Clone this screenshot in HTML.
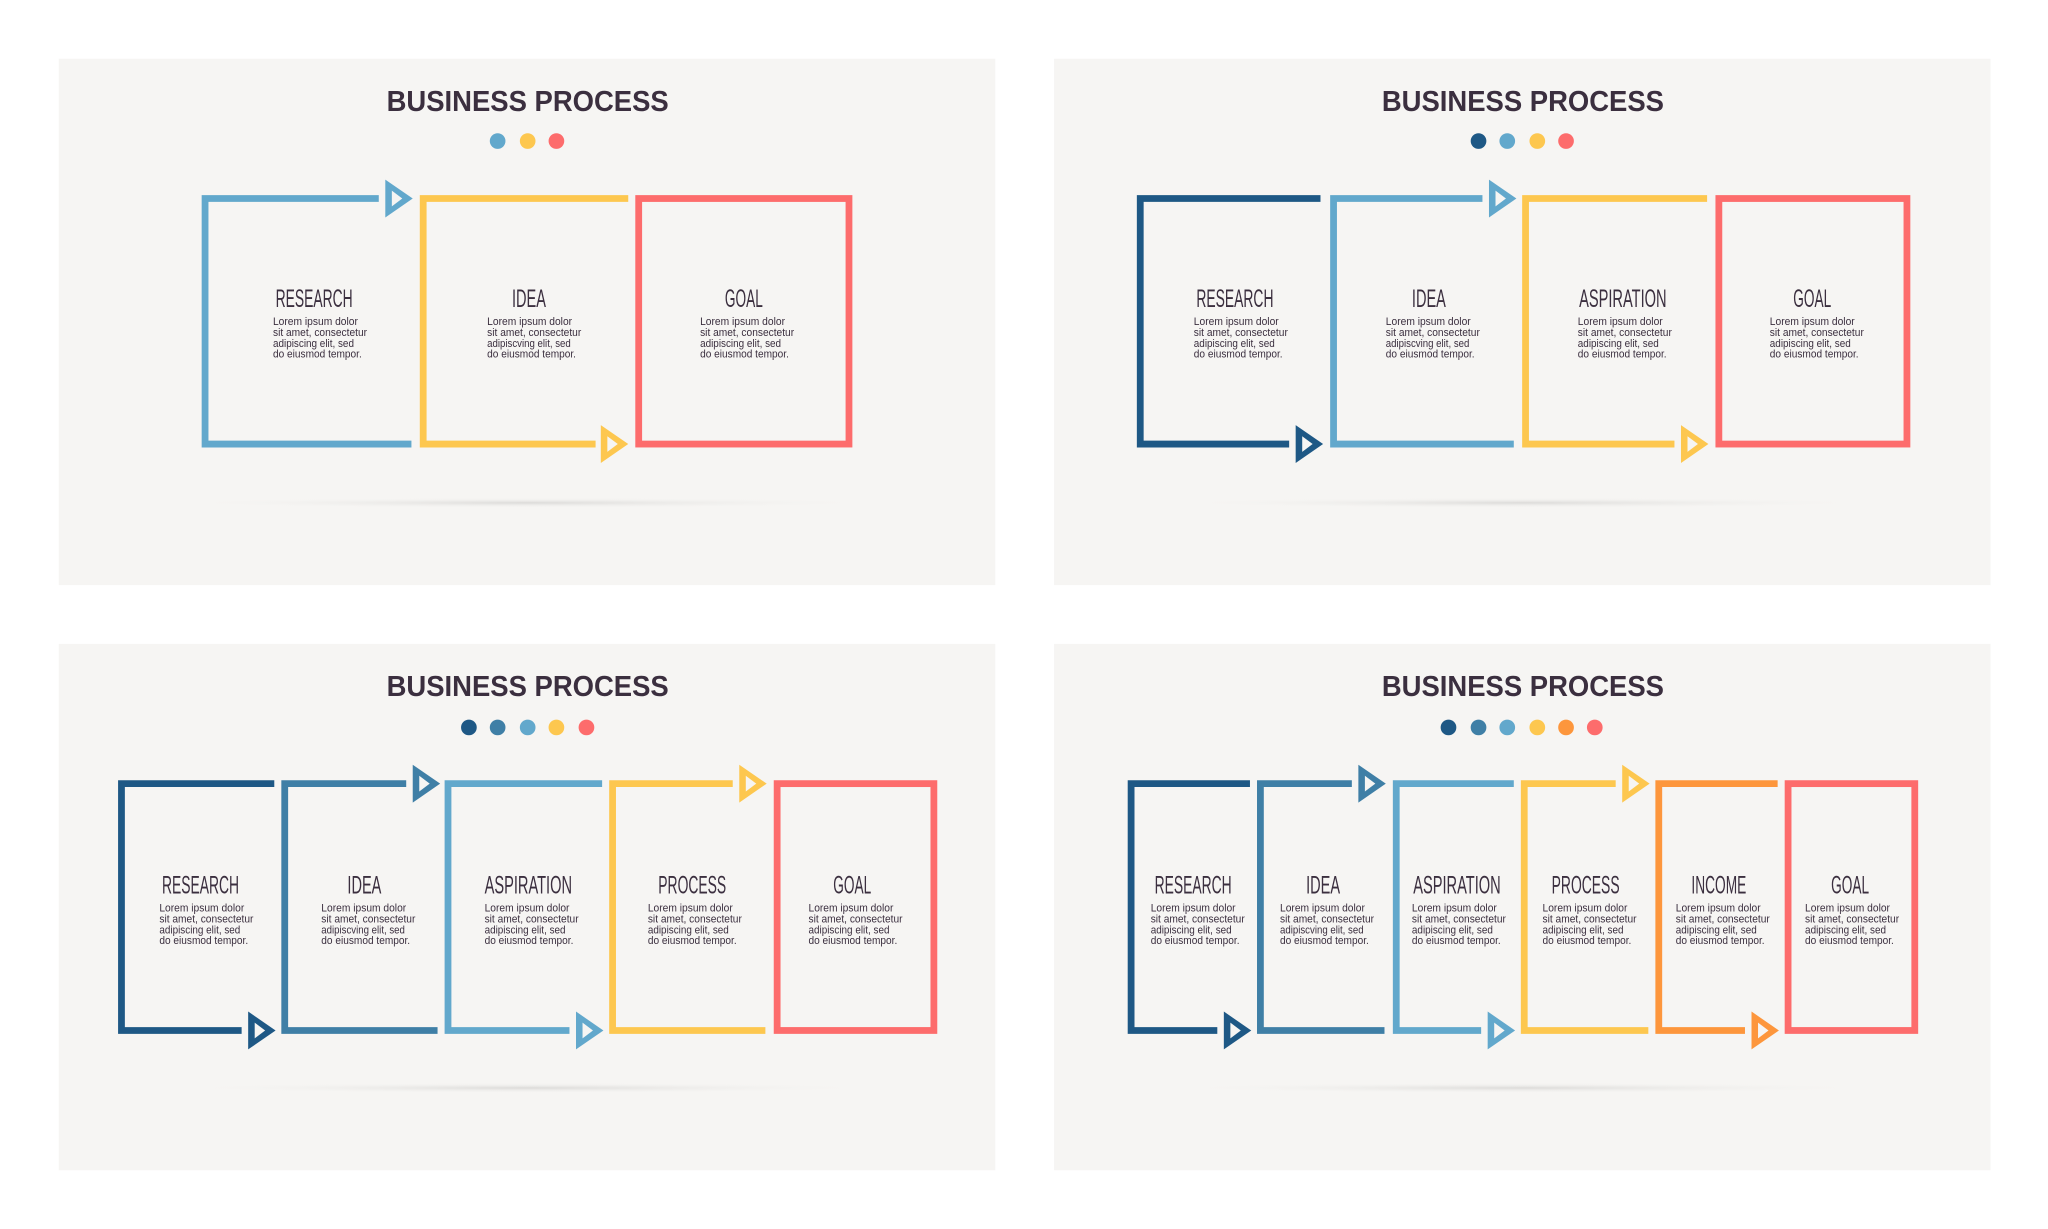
<!DOCTYPE html>
<html><head><meta charset="utf-8"><style>
html,body{margin:0;padding:0;background:#fff;}
svg{display:block;}
.t{font-family:"Liberation Sans",sans-serif;font-weight:bold;font-size:22px;fill:#3b2f3f;}
.h{font-family:"Liberation Sans",sans-serif;font-size:19px;fill:#3b2f3f;}
.b{font-family:"Liberation Sans",sans-serif;font-size:8.3px;fill:#3b2f3f;}
</style></head><body>
<svg width="2048" height="1229" viewBox="0 0 1568 941" preserveAspectRatio="none" xmlns="http://www.w3.org/2000/svg">
<defs>
<radialGradient id="sh" cx="0.5" cy="0.5" r="0.5"><stop offset="0" stop-color="#dcdbd9"/><stop offset="1" stop-color="#f6f5f3" stop-opacity="0"/></radialGradient>
<g id="body">
<text class="b" x="0" y="0" textLength="65" lengthAdjust="spacingAndGlyphs">Lorem ipsum dolor</text>
<text class="b" x="0" y="8.3" textLength="72" lengthAdjust="spacingAndGlyphs">sit amet, consectetur</text>
<text class="b" x="0" y="16.6" textLength="62" lengthAdjust="spacingAndGlyphs">adipiscing elit, sed</text>
<text class="b" x="0" y="24.9" textLength="68" lengthAdjust="spacingAndGlyphs">do eiusmod tempor.</text>
</g>
<g id="body2">
<text class="b" x="0" y="0" textLength="65" lengthAdjust="spacingAndGlyphs">Lorem ipsum dolor</text>
<text class="b" x="0" y="8.3" textLength="72" lengthAdjust="spacingAndGlyphs">sit amet, consectetur</text>
<text class="b" x="0" y="16.6" textLength="64" lengthAdjust="spacingAndGlyphs">adipiscving elit, sed</text>
<text class="b" x="0" y="24.9" textLength="68" lengthAdjust="spacingAndGlyphs">do eiusmod tempor.</text>
</g>
</defs>
<rect x="45" y="45" width="717" height="403" fill="#f6f5f3"/>
<rect x="807" y="45" width="717" height="403" fill="#f6f5f3"/>
<rect x="45" y="493" width="717" height="403" fill="#f6f5f3"/>
<rect x="807" y="493" width="717" height="403" fill="#f6f5f3"/>
<ellipse cx="404" cy="385" rx="270" ry="4" fill="url(#sh)"/>
<ellipse cx="1166" cy="385" rx="270" ry="4" fill="url(#sh)"/>
<ellipse cx="404" cy="833" rx="270" ry="4" fill="url(#sh)"/>
<ellipse cx="1166" cy="833" rx="270" ry="4" fill="url(#sh)"/>
<text class="t" x="296" y="85" textLength="216" lengthAdjust="spacingAndGlyphs">BUSINESS PROCESS</text>
<text class="t" x="1058" y="85" textLength="216" lengthAdjust="spacingAndGlyphs">BUSINESS PROCESS</text>
<text class="t" x="296" y="533" textLength="216" lengthAdjust="spacingAndGlyphs">BUSINESS PROCESS</text>
<text class="t" x="1058" y="533" textLength="216" lengthAdjust="spacingAndGlyphs">BUSINESS PROCESS</text>
<!-- dots -->
<circle cx="381" cy="108" r="6" fill="#62a8cc"/><circle cx="404" cy="108" r="6" fill="#fdc74f"/><circle cx="426" cy="108" r="6" fill="#fd6c6c"/>
<circle cx="1132" cy="108" r="6" fill="#1e5885"/><circle cx="1154" cy="108" r="6" fill="#62a8cc"/><circle cx="1177" cy="108" r="6" fill="#fdc74f"/><circle cx="1199" cy="108" r="6" fill="#fd6c6c"/>
<circle cx="359" cy="557" r="6" fill="#1e5885"/><circle cx="381" cy="557" r="6" fill="#3f7fa6"/><circle cx="404" cy="557" r="6" fill="#62a8cc"/><circle cx="426" cy="557" r="6" fill="#fdc74f"/><circle cx="449" cy="557" r="6" fill="#fd6c6c"/>
<circle cx="1109" cy="557" r="6" fill="#1e5885"/><circle cx="1132" cy="557" r="6" fill="#3f7fa6"/><circle cx="1154" cy="557" r="6" fill="#62a8cc"/><circle cx="1177" cy="557" r="6" fill="#fdc74f"/><circle cx="1199" cy="557" r="6" fill="#fd963c"/><circle cx="1221" cy="557" r="6" fill="#fd6c6c"/>
<g fill="none" stroke-width="5.2">
<!-- panel 1 -->
<path d="M290 152 H157 V340 H315" stroke="#62a8cc"/>
<path d="M481 152 H324 V340 H456" stroke="#fdc74f"/>
<rect x="489" y="152" width="161" height="188" stroke="#fd6c6c"/>
<!-- panel 2 -->
<path d="M1011 152 H873 V340 H987" stroke="#1e5885"/>
<path d="M1135 152 H1021 V340 H1159" stroke="#62a8cc"/>
<path d="M1307 152 H1168 V340 H1282" stroke="#fdc74f"/>
<rect x="1316" y="152" width="144" height="188" stroke="#fd6c6c"/>
<!-- panel 3 -->
<path d="M210 600 H93 V789 H185" stroke="#1e5885"/>
<path d="M311 600 H218 V789 H335" stroke="#3f7fa6"/>
<path d="M461 600 H343 V789 H436" stroke="#62a8cc"/>
<path d="M561 600 H469 V789 H586" stroke="#fdc74f"/>
<rect x="595" y="600" width="120" height="189" stroke="#fd6c6c"/>
<!-- panel 4 -->
<path d="M957 600 H866 V789 H932" stroke="#1e5885"/>
<path d="M1035 600 H965 V789 H1060" stroke="#3f7fa6"/>
<path d="M1159 600 H1069 V789 H1134" stroke="#62a8cc"/>
<path d="M1237 600 H1167 V789 H1262" stroke="#fdc74f"/>
<path d="M1361 600 H1270 V789 H1336" stroke="#fd963c"/>
<rect x="1369" y="600" width="97" height="189" stroke="#fd6c6c"/>
</g>
<g fill-rule="evenodd">
<path fill="#62a8cc" d="M295 137.5 L316 152 L295 166.5 Z M300 146 L308 152 L300 158 Z"/>
<path fill="#fdc74f" d="M460 325.5 L481 340 L460 354.5 Z M465 334 L473 340 L465 346 Z"/>
<path fill="#1e5885" d="M992 325.5 L1013 340 L992 354.5 Z M997 334 L1005 340 L997 346 Z"/>
<path fill="#62a8cc" d="M1140 137.5 L1161 152 L1140 166.5 Z M1145 146 L1153 152 L1145 158 Z"/>
<path fill="#fdc74f" d="M1287 325.5 L1308 340 L1287 354.5 Z M1292 334 L1300 340 L1292 346 Z"/>
<path fill="#1e5885" d="M190 774.5 L211 789 L190 803.5 Z M195 783 L203 789 L195 795 Z"/>
<path fill="#3f7fa6" d="M316 585.5 L337 600 L316 614.5 Z M321 594 L329 600 L321 606 Z"/>
<path fill="#62a8cc" d="M441 774.5 L462 789 L441 803.5 Z M446 783 L454 789 L446 795 Z"/>
<path fill="#fdc74f" d="M566 585.5 L587 600 L566 614.5 Z M571 594 L579 600 L571 606 Z"/>
<path fill="#1e5885" d="M937 774.5 L958 789 L937 803.5 Z M942 783 L950 789 L942 795 Z"/>
<path fill="#3f7fa6" d="M1040 585.5 L1061 600 L1040 614.5 Z M1045 594 L1053 600 L1045 606 Z"/>
<path fill="#62a8cc" d="M1139 774.5 L1160 789 L1139 803.5 Z M1144 783 L1152 789 L1144 795 Z"/>
<path fill="#fdc74f" d="M1242 585.5 L1263 600 L1242 614.5 Z M1247 594 L1255 600 L1247 606 Z"/>
<path fill="#fd963c" d="M1341 774.5 L1362 789 L1341 803.5 Z M1346 783 L1354 789 L1346 795 Z"/>
</g>
<!-- headings -->
<g text-anchor="start">
<text class="h" x="211" y="235" textLength="59" lengthAdjust="spacingAndGlyphs">RESEARCH</text>
<text class="h" x="392" y="235" textLength="26" lengthAdjust="spacingAndGlyphs">IDEA</text>
<text class="h" x="555" y="235" textLength="29" lengthAdjust="spacingAndGlyphs">GOAL</text>
<text class="h" x="916" y="235" textLength="59" lengthAdjust="spacingAndGlyphs">RESEARCH</text>
<text class="h" x="1081" y="235" textLength="26" lengthAdjust="spacingAndGlyphs">IDEA</text>
<text class="h" x="1209" y="235" textLength="67" lengthAdjust="spacingAndGlyphs">ASPIRATION</text>
<text class="h" x="1373" y="235" textLength="29" lengthAdjust="spacingAndGlyphs">GOAL</text>
<text class="h" x="124" y="684" textLength="59" lengthAdjust="spacingAndGlyphs">RESEARCH</text>
<text class="h" x="266" y="684" textLength="26" lengthAdjust="spacingAndGlyphs">IDEA</text>
<text class="h" x="371" y="684" textLength="67" lengthAdjust="spacingAndGlyphs">ASPIRATION</text>
<text class="h" x="504" y="684" textLength="52" lengthAdjust="spacingAndGlyphs">PROCESS</text>
<text class="h" x="638" y="684" textLength="29" lengthAdjust="spacingAndGlyphs">GOAL</text>
<text class="h" x="884" y="684" textLength="59" lengthAdjust="spacingAndGlyphs">RESEARCH</text>
<text class="h" x="1000" y="684" textLength="26" lengthAdjust="spacingAndGlyphs">IDEA</text>
<text class="h" x="1082" y="684" textLength="67" lengthAdjust="spacingAndGlyphs">ASPIRATION</text>
<text class="h" x="1188" y="684" textLength="52" lengthAdjust="spacingAndGlyphs">PROCESS</text>
<text class="h" x="1295" y="684" textLength="42" lengthAdjust="spacingAndGlyphs">INCOME</text>
<text class="h" x="1402" y="684" textLength="29" lengthAdjust="spacingAndGlyphs">GOAL</text>
</g>
<!-- bodies -->
<use href="#body" x="209" y="249"/>
<use href="#body2" x="373" y="249"/>
<use href="#body" x="536" y="249"/>
<use href="#body" x="914" y="249"/>
<use href="#body2" x="1061" y="249"/>
<use href="#body" x="1208" y="249"/>
<use href="#body" x="1355" y="249"/>
<use href="#body" x="122" y="698"/>
<use href="#body2" x="246" y="698"/>
<use href="#body" x="371" y="698"/>
<use href="#body" x="496" y="698"/>
<use href="#body" x="619" y="698"/>
<use href="#body" x="881" y="698"/>
<use href="#body2" x="980" y="698"/>
<use href="#body" x="1081" y="698"/>
<use href="#body" x="1181" y="698"/>
<use href="#body" x="1283" y="698"/>
<use href="#body" x="1382" y="698"/>
</svg>
</body></html>
